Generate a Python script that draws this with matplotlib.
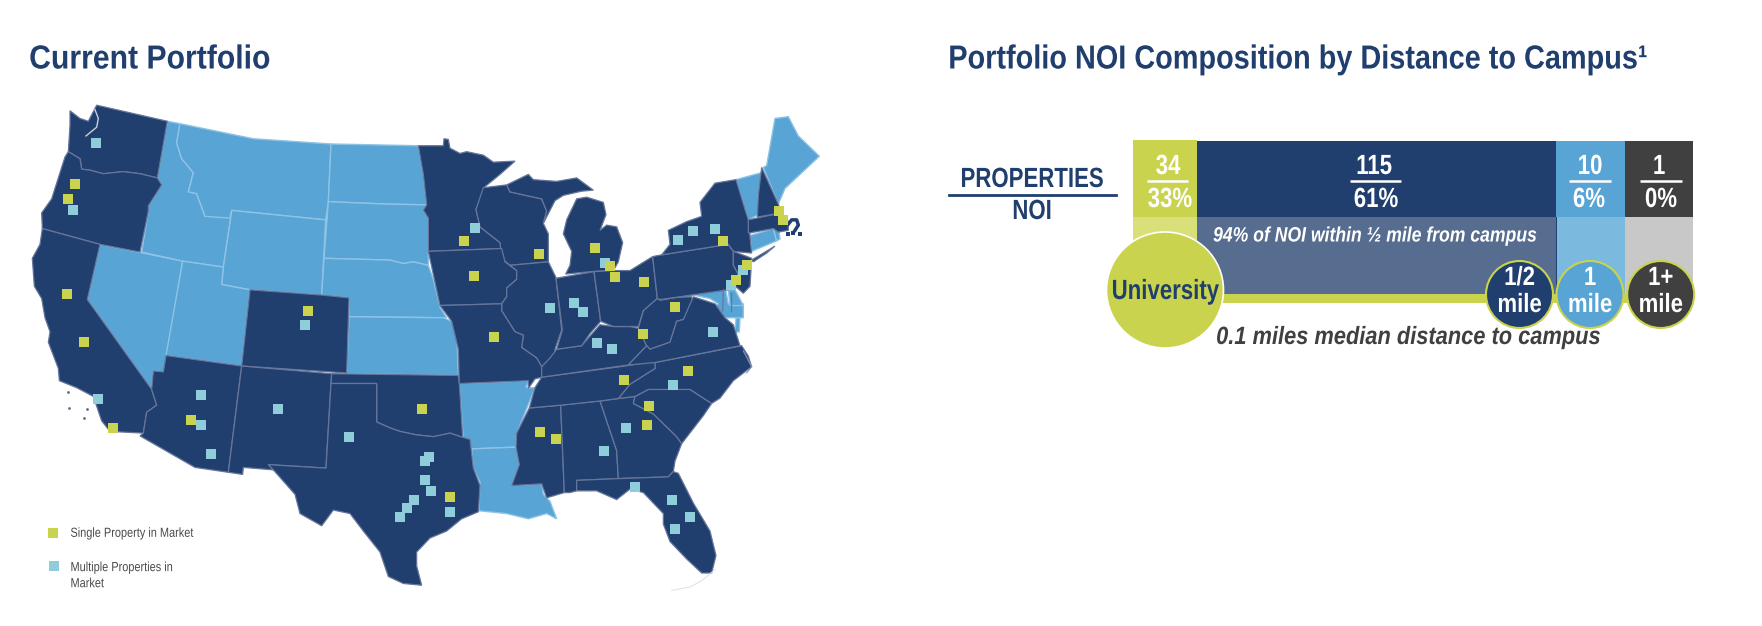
import matplotlib
matplotlib.use("Agg")
import matplotlib.pyplot as plt
from matplotlib.patches import Polygon, Rectangle, Ellipse
from matplotlib.patheffects import AbstractPathEffect
from matplotlib.transforms import Affine2D

plt.rcParams['font.family'] = ['Liberation Sans', 'DejaVu Sans']

NAVY = '#203F6E'
BLUE = '#57A4D5'
GREEN = '#C9D34D'
TEAL = '#8ECDD9'
GREY = '#404040'

# west states
WA = [(210, 88), (240, 110), (265, 118), (290, 72), (502, 118), (472, 280), (420, 268), (370, 262), (310, 268),
      (270, 258), (245, 255), (240, 225), (205, 205), (210, 130)]
OR = [(205, 205), (240, 225), (245, 255), (270, 258), (310, 268), (370, 262), (420, 268), (472, 280), (485, 300),
      (445, 360), (445, 375), (420, 492), (300, 470), (127, 425), (125, 380), (155, 340), (175, 280), (195, 220)]
CA = [(127, 425), (300, 470), (262, 628), (455, 885), (470, 930), (440, 950), (430, 1010), (330, 1005), (305, 975),
      (280, 905), (230, 880), (178, 860), (175, 825), (145, 750), (150, 720), (135, 680), (125, 625), (103, 590),
      (97, 510), (120, 470)]
NV = [(300, 470), (548, 518), (500, 790), (490, 835), (460, 832), (455, 885), (262, 628)]
ID = [(502, 118), (540, 125), (530, 180), (545, 225), (580, 265), (565, 320), (590, 325), (615, 390), (680, 390),
      (692, 395), (670, 535), (548, 518), (425, 492), (445, 375), (445, 360), (485, 300), (472, 280)]
MT = [(540, 125), (760, 168), (993, 183), (985, 350), (977, 400), (695, 373), (690, 395), (615, 390), (590, 325),
      (565, 320), (580, 265), (545, 225), (530, 180)]
WY = [(695, 373), (977, 400), (965, 615), (750, 600), (665, 585), (670, 535), (692, 395)]
UT = [(548, 518), (670, 535), (665, 585), (750, 600), (725, 818), (498, 788)]
CO = [(750, 600), (965, 615), (1047, 623), (1040, 838), (725, 818)]
AZ = [(498, 788), (725, 818), (685, 1122), (585, 1108), (420, 1018), (430, 1010), (440, 950), (470, 930), (455, 885),
      (460, 832), (490, 835)]
NM = [(725, 818), (995, 840), (993, 868), (978, 1110), (805, 1100), (820, 1115), (730, 1108), (728, 1128), (685, 1122)]
ND = [(993, 183), (1255, 188), (1270, 270), (1280, 357), (1165, 355), (985, 348)]
SD = [(985, 348), (1165, 355), (1280, 357), (1270, 372), (1285, 395), (1285, 530), (1240, 520), (1210, 525),
      (1170, 515), (972, 510)]
NE = [(972, 510), (1170, 515), (1210, 525), (1240, 520), (1285, 530), (1300, 570), (1320, 650), (1340, 680),
      (1047, 677), (1047, 623), (965, 615)]
KS = [(1047, 677), (1330, 680), (1355, 690), (1370, 720), (1375, 845), (1040, 840)]
OK = [(995, 840), (1375, 845), (1378, 868), (1388, 1022), (1350, 1010), (1300, 1020), (1250, 1015), (1200, 1005),
      (1170, 995), (1130, 978), (1130, 868), (993, 868)]
TX = [(993, 868), (1130, 868), (1130, 978), (1170, 995), (1200, 1005), (1250, 1015), (1300, 1020), (1350, 1010),
      (1388, 1022), (1410, 1028), (1420, 1110), (1440, 1160), (1435, 1235), (1385, 1255), (1340, 1290), (1290, 1310),
      (1250, 1350), (1250, 1390), (1265, 1445), (1210, 1440), (1165, 1420), (1140, 1350), (1090, 1290), (1050, 1240),
      (1000, 1230), (965, 1275), (900, 1240), (885, 1185), (820, 1115), (805, 1100), (978, 1110)]

# east states, second crop, x shifted by 1200 when drawn
MN = [(55, 188), (130, 188), (132, 168), (145, 170), (150, 195), (180, 210), (200, 205), (250, 215), (280, 235),
      (345, 232), (300, 270), (255, 305), (250, 330), (228, 370), (240, 420), (300, 465), (305, 482), (85, 490),
      (85, 395), (70, 372), (80, 357), (70, 270)]
WI = [(250, 308), (320, 300), (330, 320), (425, 340), (440, 375), (430, 410), (445, 440), (445, 520), (330, 530),
      (305, 510), (300, 465), (240, 420), (228, 370)]
UP = [(320, 300), (385, 270), (400, 285), (470, 290), (530, 280), (580, 315), (545, 318), (490, 330), (465, 345),
      (430, 410), (440, 375), (425, 340), (330, 320)]
MI = [(490, 440), (500, 400), (530, 340), (560, 335), (610, 350), (618, 385), (600, 430), (620, 415), (650, 420),
      (668, 465), (655, 520), (640, 545), (585, 547), (497, 555), (510, 530), (515, 490)]
IA = [(85, 490), (305, 482), (315, 520), (350, 545), (350, 570), (320, 595), (320, 620), (305, 640), (120, 645)]
IL = [(330, 530), (445, 520), (468, 565), (485, 715), (465, 770), (465, 790), (450, 795), (445, 820), (425, 820),
      (410, 795), (365, 765), (370, 730), (345, 720), (305, 660), (305, 640), (320, 620), (320, 595), (350, 570),
      (350, 545)]
MO = [(120, 645), (305, 640), (305, 660), (345, 720), (370, 730), (365, 765), (410, 795), (425, 820), (425, 850),
      (405, 855), (385, 882), (385, 860), (178, 868), (175, 770), (155, 690)]
AR = [(178, 868), (385, 860), (378, 880), (405, 880), (380, 940), (350, 1010), (348, 1050), (215, 1055), (190, 1025)]
LA = [(215, 1055), (348, 1050), (358, 1100), (335, 1160), (425, 1155), (430, 1185), (450, 1205), (470, 1255),
      (440, 1240), (385, 1255), (320, 1240), (237, 1232), (240, 1150), (220, 1110)]
MS = [(388, 938), (482, 930), (493, 1180), (440, 1195), (425, 1155), (335, 1160), (358, 1100), (348, 1050), (350, 1010)]
AL = [(482, 930), (600, 918), (650, 1060), (655, 1140), (530, 1145), (530, 1175), (510, 1180), (493, 1180)]
GA = [(600, 918), (655, 911), (705, 905), (700, 925), (760, 955), (830, 1020), (845, 1040), (825, 1090), (820, 1120),
      (805, 1135), (655, 1140), (650, 1060)]
FL = [(530, 1145), (655, 1140), (805, 1135), (820, 1120), (835, 1125), (880, 1210), (930, 1290), (948, 1360),
      (935, 1410), (905, 1410), (860, 1370), (810, 1320), (790, 1270), (790, 1240), (730, 1180), (690, 1170),
      (650, 1200), (590, 1175), (530, 1175)]
SC = [(705, 905), (745, 885), (870, 885), (935, 925), (910, 960), (845, 1040), (830, 1020), (760, 955), (700, 925)]
NC = [(655, 911), (690, 870), (765, 825), (765, 808), (1025, 760), (1045, 790), (1055, 820), (1000, 860), (960, 910),
      (935, 925), (870, 885), (745, 885), (705, 905)]
TN = [(425, 850), (660, 820), (765, 805), (765, 825), (690, 870), (655, 911), (600, 918), (482, 930), (388, 938),
      (405, 880)]
KY = [(425, 820), (450, 795), (470, 770), (545, 760), (600, 700), (640, 705), (690, 705), (715, 710), (740, 760),
      (685, 815), (425, 850)]
IN = [(468, 567), (582, 548), (602, 690), (570, 725), (545, 760), (470, 770), (487, 715)]
OH = [(582, 548), (640, 545), (690, 545), (758, 505), (772, 625), (730, 660), (715, 705), (690, 705), (640, 705),
      (602, 690)]
WV = [(772, 625), (780, 630), (830, 622), (875, 620), (880, 640), (850, 685), (830, 690), (810, 750), (750, 770),
      (740, 760), (715, 710), (730, 660)]
VA = [(685, 815), (740, 760), (750, 770), (810, 750), (830, 690), (850, 685), (880, 620), (945, 640), (975, 680),
      (1000, 700), (1020, 760), (765, 808)]
PA = [(758, 505), (785, 500), (985, 470), (1000, 490), (1000, 530), (1015, 555), (985, 600), (780, 628), (772, 625)]
NY = [(785, 500), (810, 470), (805, 430), (860, 405), (905, 390), (900, 350), (945, 295), (1008, 285), (1035, 370),
      (1045, 400), (1055, 495), (1000, 490), (985, 470)]
NJ = [(1000, 490), (1055, 510), (1050, 590), (1030, 610), (1000, 585), (1015, 555), (1000, 530)]
LI = [(1055, 515), (1125, 475), (1100, 495), (1060, 520)]
MD = [(825, 625), (890, 605), (975, 590), (985, 640), (1030, 640), (1030, 680), (975, 680), (945, 670), (935, 655),
      (955, 640), (930, 625), (880, 615), (835, 632)]
DE = [(985, 600), (1005, 600), (1030, 645), (990, 645)]
DELMARVA = [(1008, 680), (1020, 680), (1018, 720), (1005, 722)]
CT = [(1050, 445), (1120, 425), (1130, 460), (1055, 490)]
RI = [(1120, 425), (1135, 420), (1140, 455), (1130, 460)]
MA = [(1045, 400), (1145, 380), (1165, 405), (1165, 430), (1135, 435), (1120, 425), (1045, 438)]
VT = [(1008, 285), (1085, 265), (1075, 330), (1075, 385), (1045, 400), (1035, 370)]
NH = [(1085, 250), (1135, 355), (1145, 380), (1072, 392), (1075, 330)]
ME = [(1100, 245), (1125, 110), (1165, 105), (1195, 160), (1258, 218), (1200, 270), (1155, 310), (1135, 355), (1090, 250)]

west_dark = [WA, OR, CA, CO, AZ, NM, OK, TX]
west_light = [NV, ID, MT, WY, UT, ND, SD, NE, KS]
east_dark = [MN, WI, UP, MI, IA, IL, MO, MS, AL, GA, FL, SC, NC, TN, KY, IN, OH, WV, VA, PA, NY, NJ, LI, MA, NH]
east_light = [AR, LA, MD, DE, DELMARVA, CT, RI, VT, ME]

# small coastal bits
puget = [(285, 85), (295, 110), (290, 135), (258, 160)]
cape_cod = [(1165, 412), (1175, 400), (1190, 400), (1195, 415), (1185, 430)]
outer_banks = [(1030, 775), (1055, 820), (1040, 838)]
keys = [(945, 1400), (905, 1432), (870, 1450), (815, 1460)]
md_bay_1 = [(970, 600), (968, 660)]
md_bay_2 = [(992, 610), (992, 662)]
islands_x = [205, 260, 252, 208]
islands_y = [893, 940, 966, 937]
cape_isles_x = [2365, 2378, 2400]
cape_isles_y = [440, 438, 440]

# markers
single_west_x = [225, 204, 201, 252, 339, 924, 573, 1266, 1350]
single_west_y = [298, 341, 612, 750, 994, 660, 971, 940, 1194]
single_east_x = [192, 417, 222, 282, 586, 630, 645, 732, 825, 729, 672, 864, 747, 741, 420, 468, 969, 1008, 1041, 1137, 1148]
single_east_y = [460, 498, 561, 736, 480, 531, 564, 578, 649, 726, 858, 832, 931, 986, 1006, 1026, 460, 573, 530, 376, 401]
multi_west_x = [288, 219, 915, 294, 603, 633, 835, 1047, 1287, 1275, 1275, 1293, 1242, 1221, 1200]
multi_west_y = [179, 373, 702, 911, 900, 1071, 940, 1020, 1078, 1090, 1144, 1175, 1201, 1225, 1250]
multi_top_x = [603]
multi_top_y = [986]
multi_east_x = [225, 834, 879, 945, 615, 1029, 993, 450, 522, 549, 591, 636, 939, 819, 678, 612, 705, 815, 870, 825, 150]
multi_east_y = [423, 459, 431, 425, 523, 542, 587, 651, 638, 664, 752, 770, 721, 871, 994, 1060, 1164, 1201, 1250, 1285, 1236]

# right panel
seg_left = [1133, 1197, 1556, 1625]
seg_right = [1197, 1556, 1625, 1693]
seg_colors = [GREEN, NAVY, BLUE, GREY]
seg_light = ['#D9E07A', '#566D90', '#7CB9DE', '#C8C8C8']
seg_light_bottom = [247, 294, 294, 294]
properties = ['34', '115', '10', '1']
noi = ['33%', '61%', '6%', '0%']
prop_x = [1168, 1374, 1590, 1659]
noi_x = [1170, 1376, 1589, 1661]
rule_left = [1146.5, 1350, 1569, 1640]
rule_right = [1187.5, 1401, 1610.5, 1682]
circle_top = ['1/2', '1', '1+']
circle_bottom = ['mile', 'mile', 'mile']
circle_x = [1519.5, 1590, 1660.7]
circle_fill = [NAVY, BLUE, GREY]


class Squeeze(AbstractPathEffect):
    """Narrows the glyphs sideways, the slide uses a condensed face we don't have."""

    def __init__(self, sx, center=False):
        super().__init__()
        self.sx = sx
        self.center = center

    def draw_path(self, renderer, gc, tpath, affine, rgbFace=None):
        box = tpath.get_extents(affine)
        x0 = box.x0 + box.width / 2 if self.center else box.x0
        narrow = affine + Affine2D().translate(-x0, 0).scale(self.sx, 1).translate(x0, 0)
        renderer.draw_path(gc, tpath, narrow, rgbFace)


def label(axes, x, y, s, sx=0.8, **kw):
    kw.setdefault('va', 'center')
    txt = axes.text(x, y, s, **kw)
    txt.set_path_effects([Squeeze(sx, center=kw.get('ha') == 'center')])
    return txt


fig = plt.figure(figsize=(17.62, 6.26), dpi=100)

# map axes, units are the zoom crop units
SX, SY = 3.0, 2.86
ax = fig.add_axes([0, 0, 1, 1])
ax.set_xlim(0, 1762 * SX)
ax.set_ylim(546 * SY, -80 * SY)
ax.axis('off')


def shift(poly):
    return [(x + 1200, y) for x, y in poly]


def line(axes, pts, **kw):
    axes.plot([p[0] for p in pts], [p[1] for p in pts], **kw)


for poly in west_light + [shift(p) for p in east_light]:
    ax.add_patch(Polygon(poly, closed=True, fc=BLUE, ec='#8FC3E6', lw=1.0, zorder=1))
for poly in west_dark + [shift(p) for p in east_dark]:
    ax.add_patch(Polygon(poly, closed=True, fc=NAVY, ec='#66769A', lw=0.9, zorder=2))

line(ax, puget, color='#C8CFDD', lw=1, zorder=3)
line(ax, shift(cape_cod), color=NAVY, lw=2.5, zorder=3)
line(ax, shift(outer_banks), color='#8C98B2', lw=0.8, zorder=3)
line(ax, shift(keys), color='#DDE0E8', lw=0.7, zorder=3)
line(ax, shift(md_bay_1), color='#66769A', lw=0.9, zorder=3)
line(ax, shift(md_bay_2), color='#66769A', lw=0.9, zorder=3)
ax.scatter(islands_x, islands_y, s=4, marker='o', c='#5A6C90', linewidths=0, zorder=3)
ax.scatter(cape_isles_x, cape_isles_y, s=5, marker='s', c=NAVY, linewidths=0, zorder=3)

ax.scatter(multi_west_x, multi_west_y, s=52, marker='s', c=TEAL, linewidths=0, zorder=4)
ax.scatter([x + 1200 for x in multi_east_x], multi_east_y, s=52, marker='s', c=TEAL, linewidths=0, zorder=4)
ax.scatter(single_west_x, single_west_y, s=52, marker='s', c=GREEN, linewidths=0, zorder=5)
ax.scatter([x + 1200 for x in single_east_x], single_east_y, s=52, marker='s', c=GREEN, linewidths=0, zorder=5)
ax.scatter(multi_top_x, multi_top_y, s=52, marker='s', c=TEAL, linewidths=0, zorder=6)

# legend
ax.scatter([159], [1297], s=52, marker='s', c=GREEN, linewidths=0)
ax.scatter([162], [1389], s=52, marker='s', c=TEAL, linewidths=0)
label(ax, 211, 1298, 'Single Property in Market', sx=0.83, fontsize=9.5, color='#4a4a4a')
label(ax, 211, 1396, 'Multiple Properties in', sx=0.83, fontsize=9.5, color='#4a4a4a')
label(ax, 211, 1442, 'Market', sx=0.83, fontsize=9.5, color='#4a4a4a')

# right side in plain pixels
ax2 = fig.add_axes([0, 0, 1, 1])
ax2.set_xlim(0, 1762)
ax2.set_ylim(626, 0)
ax2.axis('off')
ax2.patch.set_alpha(0)

label(ax2, 29, 60, 'Current Portfolio', sx=0.905, fontsize=24, fontweight='bold', color=NAVY)
label(ax2, 948, 60, 'Portfolio NOI Composition by Distance to Campus¹', sx=0.866, fontsize=24, fontweight='bold',
      color=NAVY)

# green strip runs behind the circles
ax2.add_patch(Rectangle((1190, 294), 470, 9, fc=GREEN, ec='none', zorder=1))
for i in range(4):
    w = seg_right[i] - seg_left[i]
    top = 140 if i == 0 else 141
    ax2.add_patch(Rectangle((seg_left[i], top), w, 217 - top, fc=seg_colors[i], ec='none', zorder=2))
    ax2.add_patch(Rectangle((seg_left[i], 217), w, seg_light_bottom[i] - 217, fc=seg_light[i], ec='none', zorder=2))
    label(ax2, prop_x[i], 167, properties[i], fontsize=20, fontweight='bold', color='white', ha='center', zorder=3)
    ax2.plot([rule_left[i], rule_right[i]], [181, 181], color='white', lw=1.8, solid_capstyle='butt', zorder=3)
    label(ax2, noi_x[i], 200, noi[i], fontsize=20, fontweight='bold', color='white', ha='center', zorder=3)
ax2.plot([1556, 1556], [217, 290], color=NAVY, lw=0.7, zorder=3)

label(ax2, 1032, 180, 'PROPERTIES', fontsize=20, fontweight='bold', color=NAVY, ha='center')
ax2.plot([948.5, 1116], [195, 195], color=NAVY, lw=2)
label(ax2, 1032, 212, 'NOI', fontsize=20, fontweight='bold', color=NAVY, ha='center')

label(ax2, 1213, 236, '94% of NOI within ½ mile from campus', sx=0.845, fontsize=15, fontweight='bold',
      style='italic', color='white', zorder=3)
label(ax2, 1216, 337, '0.1 miles median distance to campus', sx=0.873, fontsize=18, fontweight='bold',
      style='italic', color=GREY)

ax2.add_patch(Ellipse((1165, 290), 117, 116, fc=GREEN, ec='white', lw=1.2, zorder=5))
label(ax2, 1165, 292, 'University', fontsize=20, fontweight='bold', color=NAVY, ha='center', zorder=6)

for cx, fill, top, bottom in zip(circle_x, circle_fill, circle_top, circle_bottom):
    ax2.add_patch(Ellipse((cx, 294.5), 67, 67, fc=fill, ec=GREEN, lw=1.5, zorder=5))
    label(ax2, cx, 278, top, sx=0.84, fontsize=19, fontweight='bold', color='white', ha='center', zorder=6)
    label(ax2, cx, 305, bottom, sx=0.84, fontsize=19, fontweight='bold', color='white', ha='center', zorder=6)

fig.savefig('out.png', dpi=100)
